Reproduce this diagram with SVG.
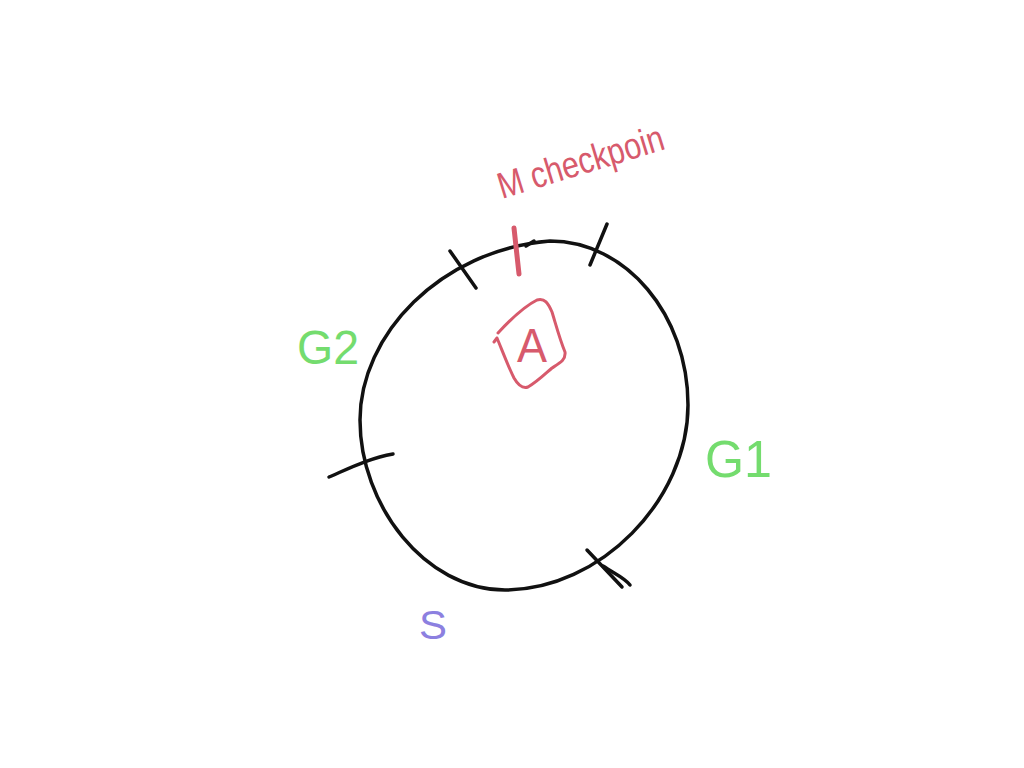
<svg xmlns="http://www.w3.org/2000/svg" width="1024" height="768" viewBox="0 0 1024 768">
<style>
.ink{fill:none;stroke:#111;stroke-width:3.5;stroke-linecap:round;stroke-linejoin:round}
.red{fill:none;stroke:#d75a6c;stroke-linecap:round;stroke-linejoin:round}
.lbl{font-family:"Liberation Sans","Open Sans",sans-serif}
</style>
<rect width="1024" height="768" fill="#fff"/>
<g id="cycle">
<path class="ink" d="M550,241 C626,241 688,315 688,405 C688,500 600,590 505,590 C425,590 360,505 360,420 C360,335 440,250 550,241 Z"/>
<path class="ink" d="M526,246 L534,241"/>
</g>
<g id="connectors">
<path class="ink" d="M450,251 L476,288"/>
<path class="ink" d="M607,224 L590,265"/>
<path class="ink" d="M329,477 C350,468 370,458 393,454"/>
<path class="ink" d="M587,550 L622,587"/>
<path class="ink" d="M603,566 C615,574 625,578 630,585"/>
<path class="red" stroke-width="5" d="M514,228 L519,274"/>
</g>
<g id="m-checkpoint">
<text class="lbl" x="0" y="0" font-size="37" fill="#d75a6c" textLength="172" lengthAdjust="spacingAndGlyphs" transform="translate(502,199) rotate(-17)">M checkpoin</text>
</g>
<g id="A">
<path class="red" stroke-width="3" d="M498,333 C510,320 525,306 537,300 C545,298 548,303 552,312 C556,325 560,340 565,352 C566,360 560,363 552,368 C545,374 537,382 528,387 C522,389 518,385 514,378 C508,366 502,350 497,338 L494,342"/>
<text class="lbl" x="532" y="362" font-size="48" fill="#d75a6c" text-anchor="middle" textLength="30" lengthAdjust="spacingAndGlyphs">A</text>
</g>
<g id="G2">
<text class="lbl" x="297" y="364" font-size="48" fill="#74dc6e" textLength="62" lengthAdjust="spacingAndGlyphs">G2</text>
</g>
<g id="G1">
<text class="lbl" x="705" y="477" font-size="52" fill="#74dc6e" textLength="67" lengthAdjust="spacingAndGlyphs">G1</text>
</g>
<g id="S">
<text class="lbl" x="419" y="639" font-size="40" fill="#8c80e0" textLength="28" lengthAdjust="spacingAndGlyphs">S</text>
</g>
</svg>
